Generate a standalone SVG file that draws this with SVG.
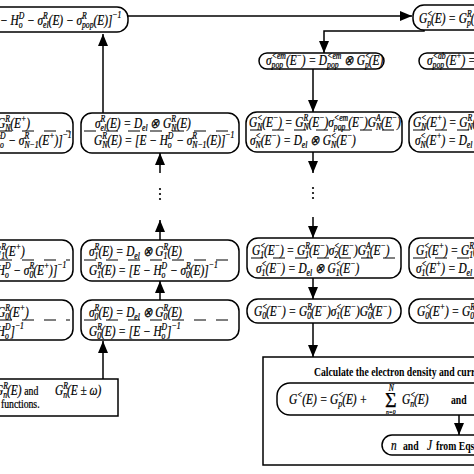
<svg xmlns="http://www.w3.org/2000/svg" width="474" height="474" viewBox="0 0 474 474">
<style>
.b{fill:#fff;stroke:#000;stroke-width:1.5}
.d{stroke:#000;stroke-width:1;stroke-dasharray:12 10}
.m{font-family:"Liberation Serif",serif;font-style:italic;font-size:14px;fill:#000;stroke:#000;stroke-width:.25;transform-box:fill-box;transform-origin:0 50%;transform:scaleX(.81)}
.p{font-size:9.5px}
.t{font-style:normal;font-weight:bold;font-size:12px;stroke-width:0}
.u{font-style:normal;font-size:12px}
.c{fill:none;stroke:#000;stroke-width:1.5}
</style>
<defs>
<marker id="a" markerUnits="userSpaceOnUse" markerWidth="12" markerHeight="10" refX="12" refY="5" orient="auto"><path d="M0,0 L12,5 L0,10 z" fill="#000"/></marker>
</defs>
<rect width="474" height="474" fill="#fff"/>

<g id="connectors">
<path class="c" d="M103,113 V34" marker-end="url(#a)"/>
<path class="c" d="M128,16 H412" marker-end="url(#a)"/>
<path class="c" d="M424,29 V31 H324 V53" marker-end="url(#a)"/>
<path class="c" d="M313,69 V112" marker-end="url(#a)"/>
<path class="c" d="M313,152 V173" marker-end="url(#a)"/>
<path class="c" d="M313,217 V238" marker-end="url(#a)"/>
<path class="c" d="M313,278 V299" marker-end="url(#a)"/>
<path class="c" d="M313,323 V357" marker-end="url(#a)"/>
<path class="c" d="M459,415 V435" marker-end="url(#a)"/>
<path class="c" d="M160,173 V153" marker-end="url(#a)"/>
<path class="c" d="M160,240 V220" marker-end="url(#a)"/>
<path class="c" d="M160,300 V281" marker-end="url(#a)"/>
<path class="c" d="M103,379 V341" marker-end="url(#a)"/>
<g fill="#000"><circle cx="313" cy="188" r="1.1"/><circle cx="313" cy="193" r="1.1"/><circle cx="313" cy="198" r="1.1"/><circle cx="160" cy="189" r="1.1"/><circle cx="160" cy="194" r="1.1"/><circle cx="160" cy="199" r="1.1"/></g>
</g>

<g id="top">
<rect class="b" x="-30" y="7" width="158" height="25" rx="11"/>
<text class="m" x="0" y="25">− H<tspan class="p" dy="3">o</tspan><tspan class="p" dx="-4.75" dy="-9">D</tspan><tspan dy="6"> − σ</tspan><tspan class="p" dy="-6">R</tspan><tspan class="p" dx="-5.8" dy="9">el</tspan><tspan dy="-3">(E) − σ</tspan><tspan class="p" dy="-6">R</tspan><tspan class="p" dx="-5.8" dy="9">pop</tspan><tspan dy="-3">(E)]</tspan><tspan class="p" dy="-7">−1</tspan></text>
</g>

<g id="gp">
<rect class="b" x="413" y="5" width="90" height="25" rx="11"/>
<text class="m" x="419" y="23">G<tspan class="p" dy="-6">&lt;</tspan><tspan class="p" dx="-6.4" dy="9">p</tspan><tspan dy="-3">(E) = G</tspan><tspan class="p" dy="-6">R</tspan><tspan class="p" dx="-5.8" dy="9">p</tspan><tspan dy="-3">(E)</tspan></text>
</g>

<g id="sem">
<rect class="b" x="259" y="53" width="125" height="16" rx="8"/>
<text class="m" x="266" y="65">σ<tspan class="p" dy="3">pop</tspan><tspan class="p" dx="-14" dy="-9">&lt;em</tspan><tspan dy="6">(E</tspan><tspan class="p" dy="-6">−</tspan><tspan dy="6">) = D</tspan><tspan class="p" dy="3">pop</tspan><tspan class="p" dx="-14" dy="-9">&lt;em</tspan><tspan dy="6"> ⊗ G</tspan><tspan class="p" dy="-6">&lt;</tspan><tspan class="p" dx="-6.4" dy="9">p</tspan><tspan dy="-3">(E)</tspan></text>
</g>

<g id="sab">
<rect class="b" x="419" y="53" width="90" height="16" rx="8"/>
<text class="m" x="427" y="65">σ<tspan class="p" dy="3">pop</tspan><tspan class="p" dx="-14" dy="-9">&lt;ab</tspan><tspan dy="6">(E</tspan><tspan class="p" dy="-6">+</tspan><tspan dy="6">) = D</tspan><tspan class="p" dy="3">pop</tspan></text>
</g>

<g id="gnm">
<rect class="b" x="246" y="112" width="156" height="40" rx="11"/>
<line class="d" x1="250" y1="130" x2="398" y2="130"/>
<text class="m" x="249" y="127">G<tspan class="p" dy="-6">&lt;</tspan><tspan class="p" dx="-6.4" dy="9">N</tspan><tspan dy="-3">(E</tspan><tspan class="p" dy="-6">−</tspan><tspan dy="6">) = G</tspan><tspan class="p" dy="-6">R</tspan><tspan class="p" dx="-5.8" dy="9">N</tspan><tspan dy="-3">(E</tspan><tspan class="p" dy="-6">−</tspan><tspan dy="6">)σ</tspan><tspan class="p" dy="3">pop</tspan><tspan class="p" dx="-14" dy="-9">&lt;em</tspan><tspan dy="6">(E</tspan><tspan class="p" dy="-6">−</tspan><tspan dy="6">)G</tspan><tspan class="p" dy="-6">A</tspan><tspan class="p" dx="-5.8" dy="9">N</tspan><tspan dy="-3">(E</tspan><tspan class="p" dy="-6">−</tspan><tspan dy="6">)</tspan></text>
<text class="m" x="250" y="145">σ<tspan class="p" dy="-6">&lt;</tspan><tspan class="p" dx="-6.4" dy="9">N</tspan><tspan dy="-3">(E</tspan><tspan class="p" dy="-6">−</tspan><tspan dy="6">) = D</tspan><tspan class="p" dy="3">el</tspan><tspan dy="-3"> ⊗ G</tspan><tspan class="p" dy="-6">&lt;</tspan><tspan class="p" dx="-6.4" dy="9">N</tspan><tspan dy="-3">(E</tspan><tspan class="p" dy="-6">−</tspan><tspan dy="6">)</tspan></text>
</g>

<g id="gnp">
<rect class="b" x="409" y="112" width="100" height="40" rx="11"/>
<line class="d" x1="413" y1="130" x2="474" y2="130"/>
<text class="m" x="413" y="127">G<tspan class="p" dy="-6">&lt;</tspan><tspan class="p" dx="-6.4" dy="9">N</tspan><tspan dy="-3">(E</tspan><tspan class="p" dy="-6">+</tspan><tspan dy="6">) = G</tspan><tspan class="p" dy="-6">R</tspan><tspan class="p" dx="-5.8" dy="9">N</tspan><tspan dy="-3">(E</tspan></text>
<text class="m" x="415" y="145">σ<tspan class="p" dy="-6">&lt;</tspan><tspan class="p" dx="-6.4" dy="9">N</tspan><tspan dy="-3">(E</tspan><tspan class="p" dy="-6">+</tspan><tspan dy="6">) = D</tspan><tspan class="p" dy="3">el</tspan></text>
</g>

<g id="g1m">
<rect class="b" x="247" y="238" width="154" height="40" rx="11"/>
<line class="d" x1="251" y1="258" x2="397" y2="258"/>
<text class="m" x="252" y="255">G<tspan class="p" dy="-6">&lt;</tspan><tspan class="p" dx="-6.4" dy="9">1</tspan><tspan dy="-3">(E</tspan><tspan class="p" dy="-6">−</tspan><tspan dy="6">) = G</tspan><tspan class="p" dy="-6">R</tspan><tspan class="p" dx="-5.8" dy="9">1</tspan><tspan dy="-3">(E</tspan><tspan class="p" dy="-6">−</tspan><tspan dy="6">)σ</tspan><tspan class="p" dy="-6">&lt;</tspan><tspan class="p" dx="-6.4" dy="9">2</tspan><tspan dy="-3">(E</tspan><tspan class="p" dy="-6">−</tspan><tspan dy="6">)G</tspan><tspan class="p" dy="-6">A</tspan><tspan class="p" dx="-5.8" dy="9">1</tspan><tspan dy="-3">(E</tspan><tspan class="p" dy="-6">−</tspan><tspan dy="6">)</tspan></text>
<text class="m" x="256" y="273">σ<tspan class="p" dy="-6">&lt;</tspan><tspan class="p" dx="-6.4" dy="9">1</tspan><tspan dy="-3">(E</tspan><tspan class="p" dy="-6">−</tspan><tspan dy="6">) = D</tspan><tspan class="p" dy="3">el</tspan><tspan dy="-3"> ⊗ G</tspan><tspan class="p" dy="-6">&lt;</tspan><tspan class="p" dx="-6.4" dy="9">1</tspan><tspan dy="-3">(E</tspan><tspan class="p" dy="-6">−</tspan><tspan dy="6">)</tspan></text>
</g>

<g id="g1p">
<rect class="b" x="409" y="238" width="100" height="40" rx="11"/>
<line class="d" x1="413" y1="258" x2="474" y2="258"/>
<text class="m" x="416" y="255">G<tspan class="p" dy="-6">&lt;</tspan><tspan class="p" dx="-6.4" dy="9">1</tspan><tspan dy="-3">(E</tspan><tspan class="p" dy="-6">+</tspan><tspan dy="6">) = G</tspan><tspan class="p" dy="-6">R</tspan><tspan class="p" dx="-5.8" dy="9">1</tspan><tspan dy="-3">(E</tspan></text>
<text class="m" x="416" y="273">σ<tspan class="p" dy="-6">&lt;</tspan><tspan class="p" dx="-6.4" dy="9">1</tspan><tspan dy="-3">(E</tspan><tspan class="p" dy="-6">+</tspan><tspan dy="6">) = D</tspan><tspan class="p" dy="3">el</tspan></text>
</g>

<g id="g0m">
<rect class="b" x="247" y="299" width="154" height="24" rx="11"/>
<text class="m" x="254" y="316">G<tspan class="p" dy="-6">&lt;</tspan><tspan class="p" dx="-6.4" dy="9">0</tspan><tspan dy="-3">(E</tspan><tspan class="p" dy="-6">−</tspan><tspan dy="6">) = G</tspan><tspan class="p" dy="-6">R</tspan><tspan class="p" dx="-5.8" dy="9">0</tspan><tspan dy="-3">(E</tspan><tspan class="p" dy="-6">−</tspan><tspan dy="6">)σ</tspan><tspan class="p" dy="-6">&lt;</tspan><tspan class="p" dx="-6.4" dy="9">1</tspan><tspan dy="-3">(E</tspan><tspan class="p" dy="-6">−</tspan><tspan dy="6">)G</tspan><tspan class="p" dy="-6">A</tspan><tspan class="p" dx="-5.8" dy="9">0</tspan><tspan dy="-3">(E</tspan><tspan class="p" dy="-6">−</tspan><tspan dy="6">)</tspan></text>
</g>

<g id="g0p">
<rect class="b" x="409" y="299" width="100" height="24" rx="11"/>
<text class="m" x="417" y="316">G<tspan class="p" dy="-6">&lt;</tspan><tspan class="p" dx="-6.4" dy="9">0</tspan><tspan dy="-3">(E</tspan><tspan class="p" dy="-6">+</tspan><tspan dy="6">) = G</tspan><tspan class="p" dy="-6">R</tspan><tspan class="p" dx="-5.8" dy="9">0</tspan><tspan dy="-3">(E</tspan></text>
</g>

<g id="calc">
<rect x="263" y="357" width="240" height="108" fill="none" stroke="#000" stroke-width="1.5"/>
<text class="m t" x="314" y="376">Calculate the electron density and current</text>
<rect class="b" x="277" y="383" width="230" height="32" rx="13"/>
<text class="m" x="289" y="404">G<tspan class="p" dy="-6">&lt;</tspan><tspan dy="6">(E) = G</tspan><tspan class="p" dy="-6">&lt;</tspan><tspan class="p" dx="-6.4" dy="9">p</tspan><tspan dy="-3">(E) +</tspan></text>
<text class="m" x="385" y="407" style="font-style:normal;font-size:20px;transform:none">Σ</text>
<text class="m p" x="389" y="391">N</text>
<text class="m" x="386" y="414" style="font-size:7px">n=0</text>
<text class="m" x="402" y="404">G<tspan class="p" dy="-6">&lt;</tspan><tspan class="p" dx="-6.4" dy="9">n</tspan><tspan dy="-3">(E)</tspan></text>
<text class="m t" x="451" y="404">and</text>
<rect class="b" x="382" y="435" width="130" height="20" rx="10"/>
<text class="m" x="391" y="450">n</text>
<text class="m t" x="403" y="450">and</text>
<text class="m" x="427" y="450">J</text>
<text class="m t" x="436" y="450">from Eqs.</text>
</g>

<g id="rN">
<rect class="b" x="81" y="113" width="158" height="40" rx="11"/>
<line class="d" x1="84" y1="131" x2="236" y2="131"/>
<text class="m" x="95" y="128">σ<tspan class="p" dy="-6">R</tspan><tspan class="p" dx="-5.8" dy="9">el</tspan><tspan dy="-3">(E) = D</tspan><tspan class="p" dy="3">el</tspan><tspan dy="-3"> ⊗ G</tspan><tspan class="p" dy="-6">R</tspan><tspan class="p" dx="-5.8" dy="9">N</tspan><tspan dy="-3">(E)</tspan></text>
<text class="m" x="94" y="145">G<tspan class="p" dy="-6">R</tspan><tspan class="p" dx="-5.8" dy="9">N</tspan><tspan dy="-3">(E) = [E − H</tspan><tspan class="p" dy="3">o</tspan><tspan class="p" dx="-4.75" dy="-9">D</tspan><tspan dy="6"> − σ</tspan><tspan class="p" dy="-6">R</tspan><tspan class="p" dx="-5.8" dy="9">N−1</tspan><tspan dy="-3">(E)]</tspan><tspan class="p" dy="-7">−1</tspan></text>
</g>

<g id="lN">
<rect class="b" x="-30" y="113" width="103" height="40" rx="11"/>
<line class="d" x1="0" y1="131" x2="70" y2="131"/>
<text class="m" x="-3" y="128">G<tspan class="p" dy="-6">R</tspan><tspan class="p" dx="-5.8" dy="9">N</tspan><tspan dy="-3">(E</tspan><tspan class="p" dy="-6">+</tspan><tspan dy="6">)</tspan></text>
<text class="m" x="-8" y="145">H<tspan class="p" dy="3">o</tspan><tspan class="p" dx="-4.75" dy="-9">D</tspan><tspan dy="6"> − σ</tspan><tspan class="p" dy="-6">R</tspan><tspan class="p" dx="-5.8" dy="9">N−1</tspan><tspan dy="-3">(E</tspan><tspan class="p" dy="-6">+</tspan><tspan dy="6">)]</tspan><tspan class="p" dy="-7">−1</tspan></text>
</g>

<g id="r1">
<rect class="b" x="81" y="240" width="158" height="41" rx="11"/>
<line class="d" x1="84" y1="260" x2="236" y2="260"/>
<text class="m" x="89" y="256">σ<tspan class="p" dy="-6">R</tspan><tspan class="p" dx="-5.8" dy="9">1</tspan><tspan dy="-3">(E) = D</tspan><tspan class="p" dy="3">el</tspan><tspan dy="-3"> ⊗ G</tspan><tspan class="p" dy="-6">R</tspan><tspan class="p" dx="-5.8" dy="9">1</tspan><tspan dy="-3">(E)</tspan></text>
<text class="m" x="89" y="275">G<tspan class="p" dy="-6">R</tspan><tspan class="p" dx="-5.8" dy="9">1</tspan><tspan dy="-3">(E) = [E − H</tspan><tspan class="p" dy="3">o</tspan><tspan class="p" dx="-4.75" dy="-9">D</tspan><tspan dy="6"> − σ</tspan><tspan class="p" dy="-6">R</tspan><tspan class="p" dx="-5.8" dy="9">0</tspan><tspan dy="-3">(E)]</tspan><tspan class="p" dy="-7">−1</tspan></text>
</g>

<g id="l1">
<rect class="b" x="-30" y="240" width="103" height="41" rx="11"/>
<line class="d" x1="0" y1="260" x2="70" y2="260"/>
<text class="m" x="-7" y="256">G<tspan class="p" dy="-6">R</tspan><tspan class="p" dx="-5.8" dy="9">1</tspan><tspan dy="-3">(E</tspan><tspan class="p" dy="-6">+</tspan><tspan dy="6">)</tspan></text>
<text class="m" x="-3" y="275">H<tspan class="p" dy="3">o</tspan><tspan class="p" dx="-4.75" dy="-9">D</tspan><tspan dy="6"> − σ</tspan><tspan class="p" dy="-6">R</tspan><tspan class="p" dx="-5.8" dy="9">0</tspan><tspan dy="-3">(E</tspan><tspan class="p" dy="-6">+</tspan><tspan dy="6">)]</tspan><tspan class="p" dy="-7">−1</tspan></text>
</g>

<g id="r0">
<rect class="b" x="81" y="300" width="158" height="40" rx="11"/>
<line class="d" x1="84" y1="320" x2="236" y2="320"/>
<text class="m" x="89" y="317">σ<tspan class="p" dy="-6">R</tspan><tspan class="p" dx="-5.8" dy="9">0</tspan><tspan dy="-3">(E) = D</tspan><tspan class="p" dy="3">el</tspan><tspan dy="-3"> ⊗ G</tspan><tspan class="p" dy="-6">R</tspan><tspan class="p" dx="-5.8" dy="9">0</tspan><tspan dy="-3">(E)</tspan></text>
<text class="m" x="89" y="336">G<tspan class="p" dy="-6">R</tspan><tspan class="p" dx="-5.8" dy="9">0</tspan><tspan dy="-3">(E) = [E − H</tspan><tspan class="p" dy="3">o</tspan><tspan class="p" dx="-4.75" dy="-9">D</tspan><tspan dy="6">]</tspan><tspan class="p" dy="-7">−1</tspan></text>
</g>

<g id="l0">
<rect class="b" x="-30" y="300" width="103" height="40" rx="11"/>
<line class="d" x1="0" y1="320" x2="70" y2="320"/>
<text class="m" x="-3" y="317">G<tspan class="p" dy="-6">R</tspan><tspan class="p" dx="-5.8" dy="9">0</tspan><tspan dy="-3">(E</tspan><tspan class="p" dy="-6">+</tspan><tspan dy="6">)</tspan></text>
<text class="m" x="-3" y="336">H<tspan class="p" dy="3">o</tspan><tspan class="p" dx="-4.75" dy="-9">D</tspan><tspan dy="6">]</tspan><tspan class="p" dy="-7">−1</tspan></text>
</g>

<g id="init">
<rect x="-10" y="379" width="128" height="37" fill="#fff" stroke="#000" stroke-width="1.5"/>
<text class="m" x="-5" y="395">G<tspan class="p" dy="-6">R</tspan><tspan class="p" dx="-5.8" dy="9">n</tspan><tspan dy="-3">(E) </tspan><tspan class="u">and</tspan></text>
<text class="m" x="55" y="395">G<tspan class="p" dy="-6">R</tspan><tspan class="p" dx="-5.8" dy="9">n</tspan><tspan dy="-3">(E ± ω)</tspan></text>
<text class="m u" x="1" y="408">functions.</text>
</g>
</svg>
